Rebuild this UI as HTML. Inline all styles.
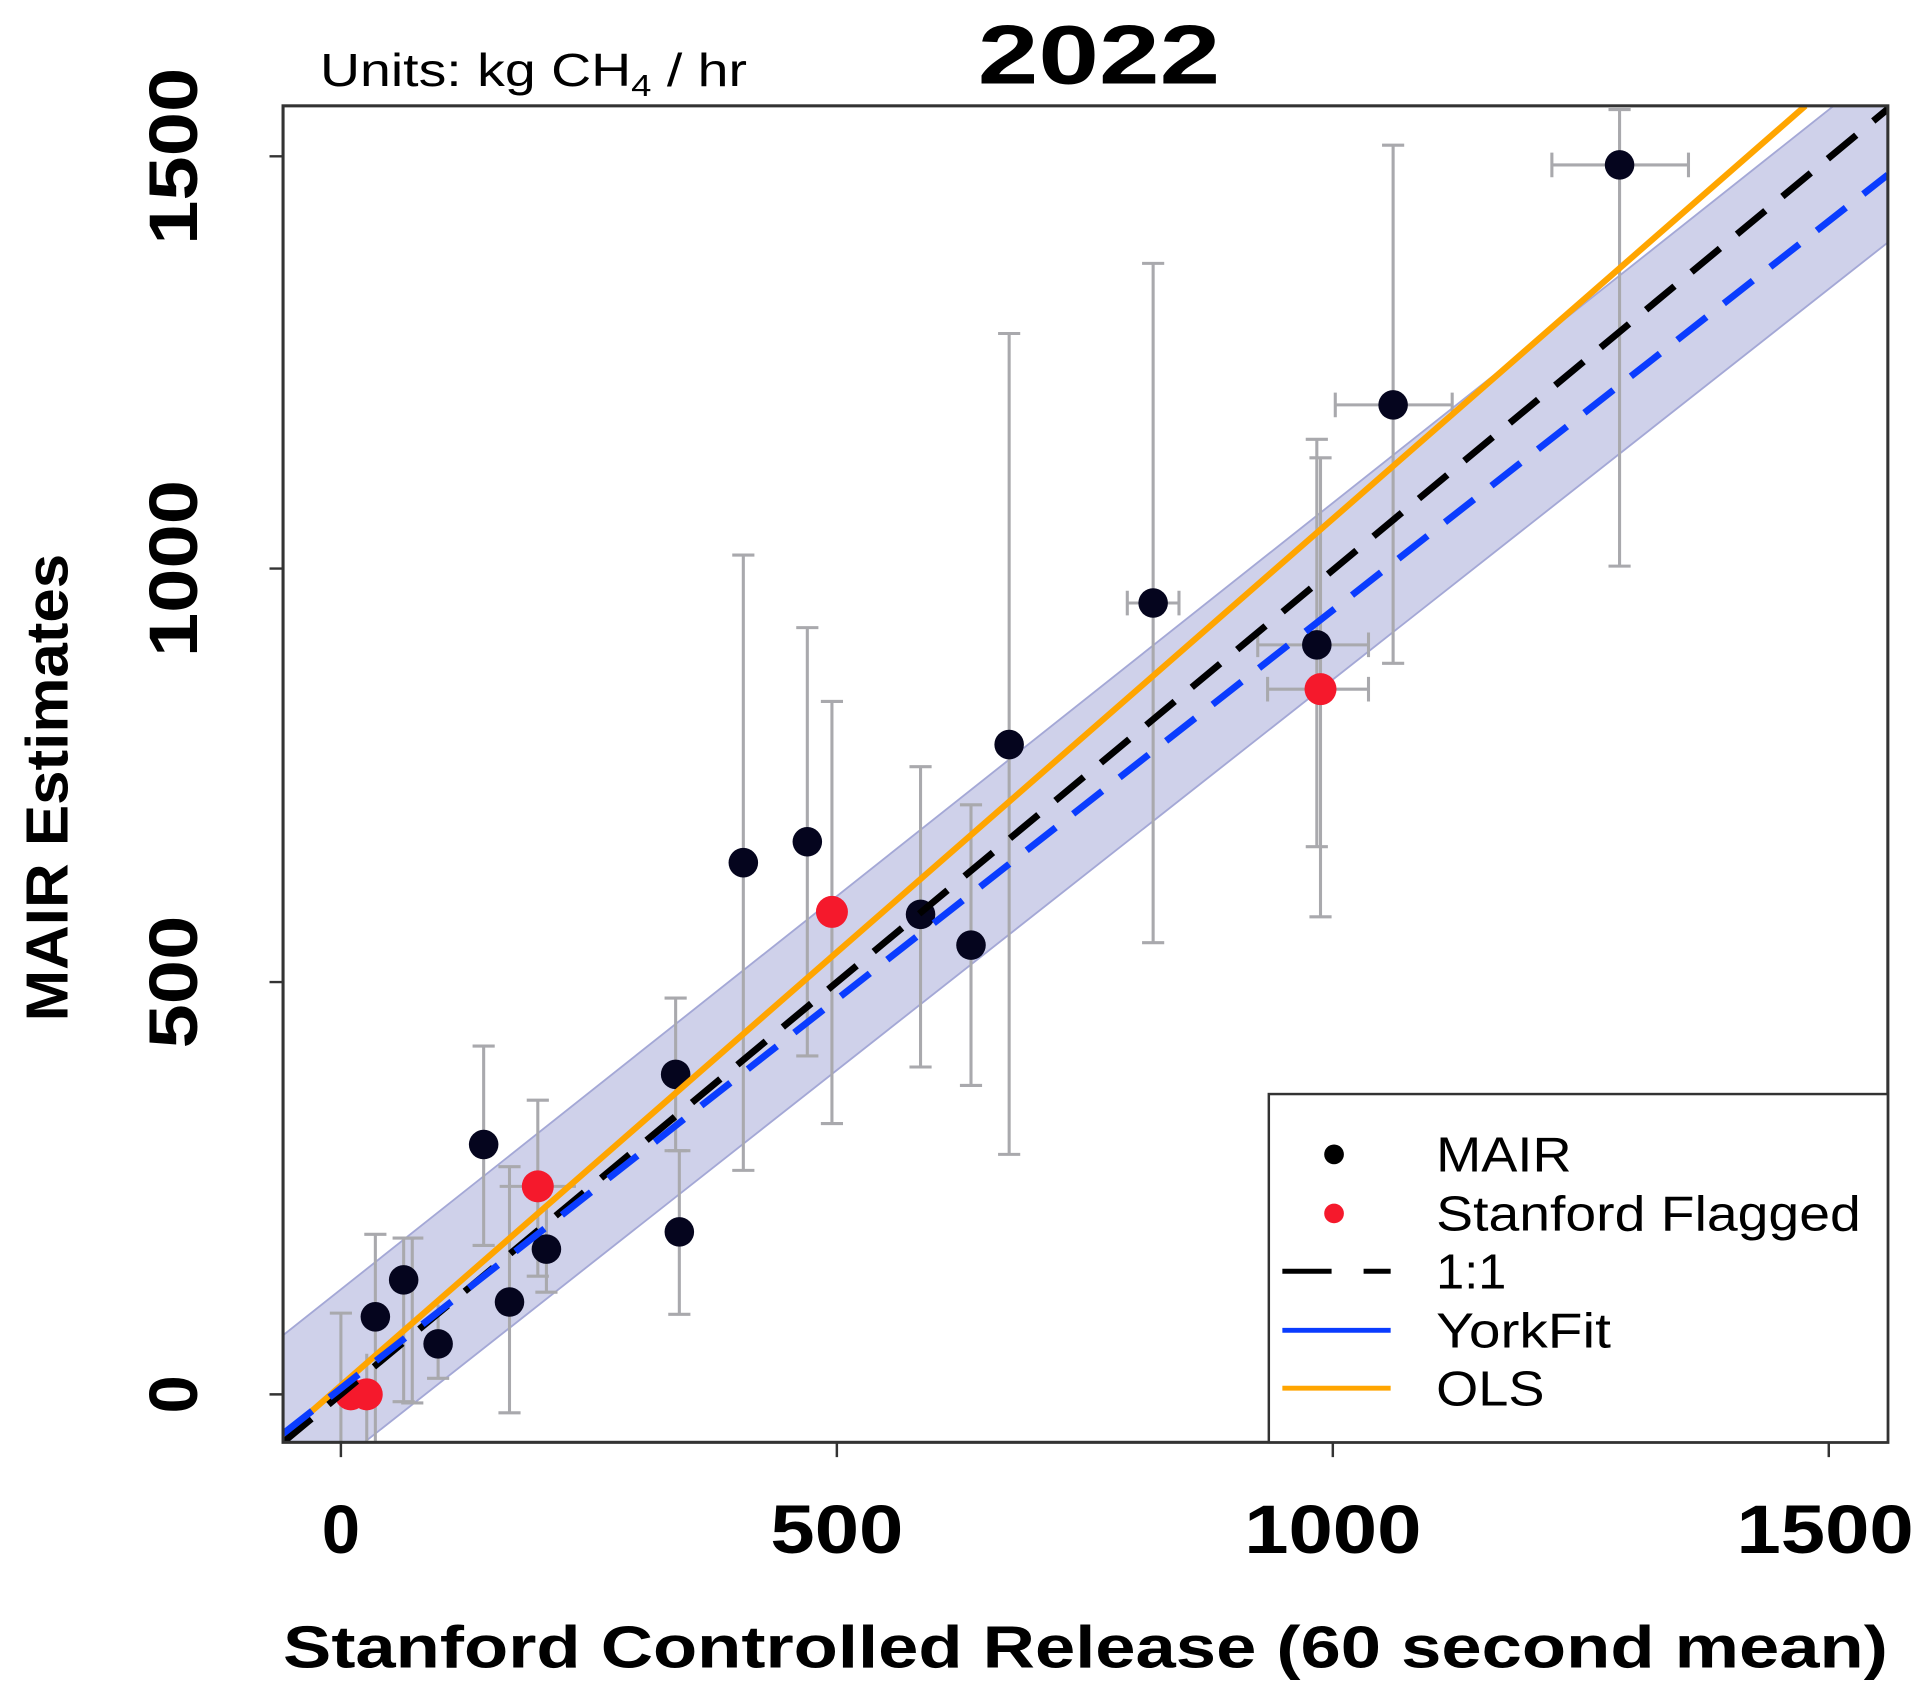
<!DOCTYPE html>
<html><head><meta charset="utf-8"><style>
html,body{margin:0;padding:0;background:#fff;}
svg{display:block;}
</style></head><body>
<svg width="1926" height="1686" viewBox="0 0 1565 1370" preserveAspectRatio="none" xmlns="http://www.w3.org/2000/svg" font-family="Liberation Sans, Arial, sans-serif">
<defs><clipPath id="c"><rect x="230" y="86" width="1304" height="1086"/></clipPath></defs>
<g clip-path="url(#c)">
<polygon points="230,1085 1490,86 1534,86 1534,197 296,1172 230,1172" fill="#cfd1ea" stroke="#a4a8d6" stroke-width="1.5"/>
<g stroke="#a9a9ad" stroke-width="2.5" fill="none">
<path d="M277,1067V1172 M268,1067h18"/>
<path d="M298,1100V1172"/>
<path d="M305,1003V1172 M296,1003h18"/>
<path d="M328,1006V1139 M319,1006h18 M319,1139h18"/>
<path d="M335,1006V1140 M326,1006h18 M326,1140h18"/>
<path d="M356,1060V1120 M347,1120h18"/>
<path d="M393,850V1012 M384,850h18 M384,1012h18"/>
<path d="M414,948V1148 M405,948h18 M405,1148h18"/>
<path d="M437,894V1037 M428,894h18 M428,1037h18 M406,964H468"/>
<path d="M444,980V1050 M435,1050h18"/>
<path d="M549,811V935 M540,811h18 M540,935h18"/>
<path d="M552,935V1068 M543,935h18 M543,1068h18"/>
<path d="M604,451V951 M595,451h18 M595,951h18"/>
<path d="M656,510V858 M647,510h18 M647,858h18"/>
<path d="M676,570V913 M667,570h18 M667,913h18"/>
<path d="M748,623V867 M739,623h18 M739,867h18"/>
<path d="M789,654V882 M780,654h18 M780,882h18"/>
<path d="M820,271V938 M811,271h18 M811,938h18"/>
<path d="M937,214V766 M928,214h18 M928,766h18 M916,490H958 M916,480v20 M958,480v20"/>
<path d="M1070,357V688 M1061,357h18 M1061,688h18 M1022,524H1112 M1022,514v20 M1112,514v20"/>
<path d="M1073,372V745 M1064,372h18 M1064,745h18 M1030,560H1112 M1030,550v20 M1112,550v20"/>
<path d="M1132,118V539 M1123,118h18 M1123,539h18 M1085,329H1180 M1085,319v20 M1180,319v20"/>
<path d="M1316,89V460 M1307,89h18 M1307,460h18 M1261,134H1372 M1261,124v20 M1372,124v20"/>
</g>
<g fill="#05051e">
<circle cx="305" cy="1070" r="12"/><circle cx="328" cy="1040" r="12"/><circle cx="356" cy="1092" r="12"/>
<circle cx="393" cy="930" r="12"/><circle cx="414" cy="1058" r="12"/><circle cx="444" cy="1015" r="12"/>
<circle cx="549" cy="873" r="12"/><circle cx="552" cy="1001" r="12"/><circle cx="604" cy="701" r="12"/>
<circle cx="656" cy="684" r="12"/><circle cx="748" cy="743" r="12"/><circle cx="789" cy="768" r="12"/>
<circle cx="820" cy="605" r="12"/><circle cx="937" cy="490" r="12"/><circle cx="1070" cy="524" r="12"/>
<circle cx="1132" cy="329" r="12"/><circle cx="1316" cy="134" r="12"/>
</g>
<g fill="#f5192c">
<circle cx="285" cy="1133" r="13"/><circle cx="298" cy="1133" r="13"/><circle cx="437" cy="964" r="13"/>
<circle cx="676" cy="741" r="13"/><circle cx="1073" cy="560" r="13"/>
</g>
<line x1="230" y1="1167" x2="1467" y2="86" stroke="#ffa500" stroke-width="5"/>
<line x1="230" y1="1172" x2="1534" y2="88.5" stroke="#000" stroke-width="5.5" stroke-dasharray="30,18"/>
<line x1="230" y1="1165" x2="1534" y2="142" stroke="#0a3cff" stroke-width="5.5" stroke-dasharray="30,18"/>
</g>
<rect x="230" y="86" width="1304" height="1086" fill="none" stroke="#333" stroke-width="2.5"/>
<g stroke="#333" stroke-width="2">
<path d="M277,1172v12 M680,1172v12 M1083,1172v12 M1486,1172v12"/>
<path d="M230,1133h-11 M230,798h-11 M230,462h-11 M230,127h-11"/>
</g>
<rect x="1031" y="889" width="503" height="283" fill="#fff" stroke="#333" stroke-width="2"/>
<circle cx="1084" cy="938" r="8" fill="#000"/>
<circle cx="1084" cy="986" r="8" fill="#f5192c"/>
<line x1="1042" y1="1033" x2="1130" y2="1033" stroke="#000" stroke-width="4" stroke-dasharray="40,26"/>
<line x1="1042" y1="1081" x2="1130" y2="1081" stroke="#0a3cff" stroke-width="4"/>
<line x1="1042" y1="1128" x2="1130" y2="1128" stroke="#ffa500" stroke-width="4"/>
<g font-size="40" fill="#000">
<text x="1167" y="952" textLength="110" lengthAdjust="spacingAndGlyphs">MAIR</text>
<text x="1167" y="1000" textLength="345" lengthAdjust="spacingAndGlyphs">Stanford Flagged</text>
<text x="1167" y="1047" textLength="57" lengthAdjust="spacingAndGlyphs">1:1</text>
<text x="1167" y="1095" textLength="142" lengthAdjust="spacingAndGlyphs">YorkFit</text>
<text x="1167" y="1142" textLength="88" lengthAdjust="spacingAndGlyphs">OLS</text>
</g>
<g font-size="56" font-weight="bold" text-anchor="middle" fill="#000">
<text x="277" y="1262">0</text>
<text x="680" y="1262" textLength="108" lengthAdjust="spacingAndGlyphs">500</text>
<text x="1083" y="1262" textLength="144" lengthAdjust="spacingAndGlyphs">1000</text>
<text x="1483" y="1262" textLength="144" lengthAdjust="spacingAndGlyphs">1500</text>
<text transform="translate(160,1133) rotate(-90)">0</text>
<text transform="translate(160,798) rotate(-90)" textLength="108" lengthAdjust="spacingAndGlyphs">500</text>
<text transform="translate(160,462) rotate(-90)" textLength="144" lengthAdjust="spacingAndGlyphs">1000</text>
<text transform="translate(160,127) rotate(-90)" textLength="144" lengthAdjust="spacingAndGlyphs">1500</text>
</g>
<text x="882" y="1355" font-size="48" font-weight="bold" text-anchor="middle" textLength="1304" lengthAdjust="spacingAndGlyphs">Stanford Controlled Release (60 second mean)</text>
<text transform="translate(55,640) rotate(-90)" font-size="48" font-weight="bold" text-anchor="middle" textLength="380" lengthAdjust="spacingAndGlyphs">MAIR Estimates</text>
<text x="893" y="68" font-size="68" font-weight="bold" text-anchor="middle" textLength="197" lengthAdjust="spacingAndGlyphs">2022</text>
<text x="260" y="70" font-size="38" textLength="347" lengthAdjust="spacingAndGlyphs">Units: kg CH<tspan font-size="25" dy="8">4</tspan><tspan dy="-8"> / hr</tspan></text>
</svg>
</body></html>
